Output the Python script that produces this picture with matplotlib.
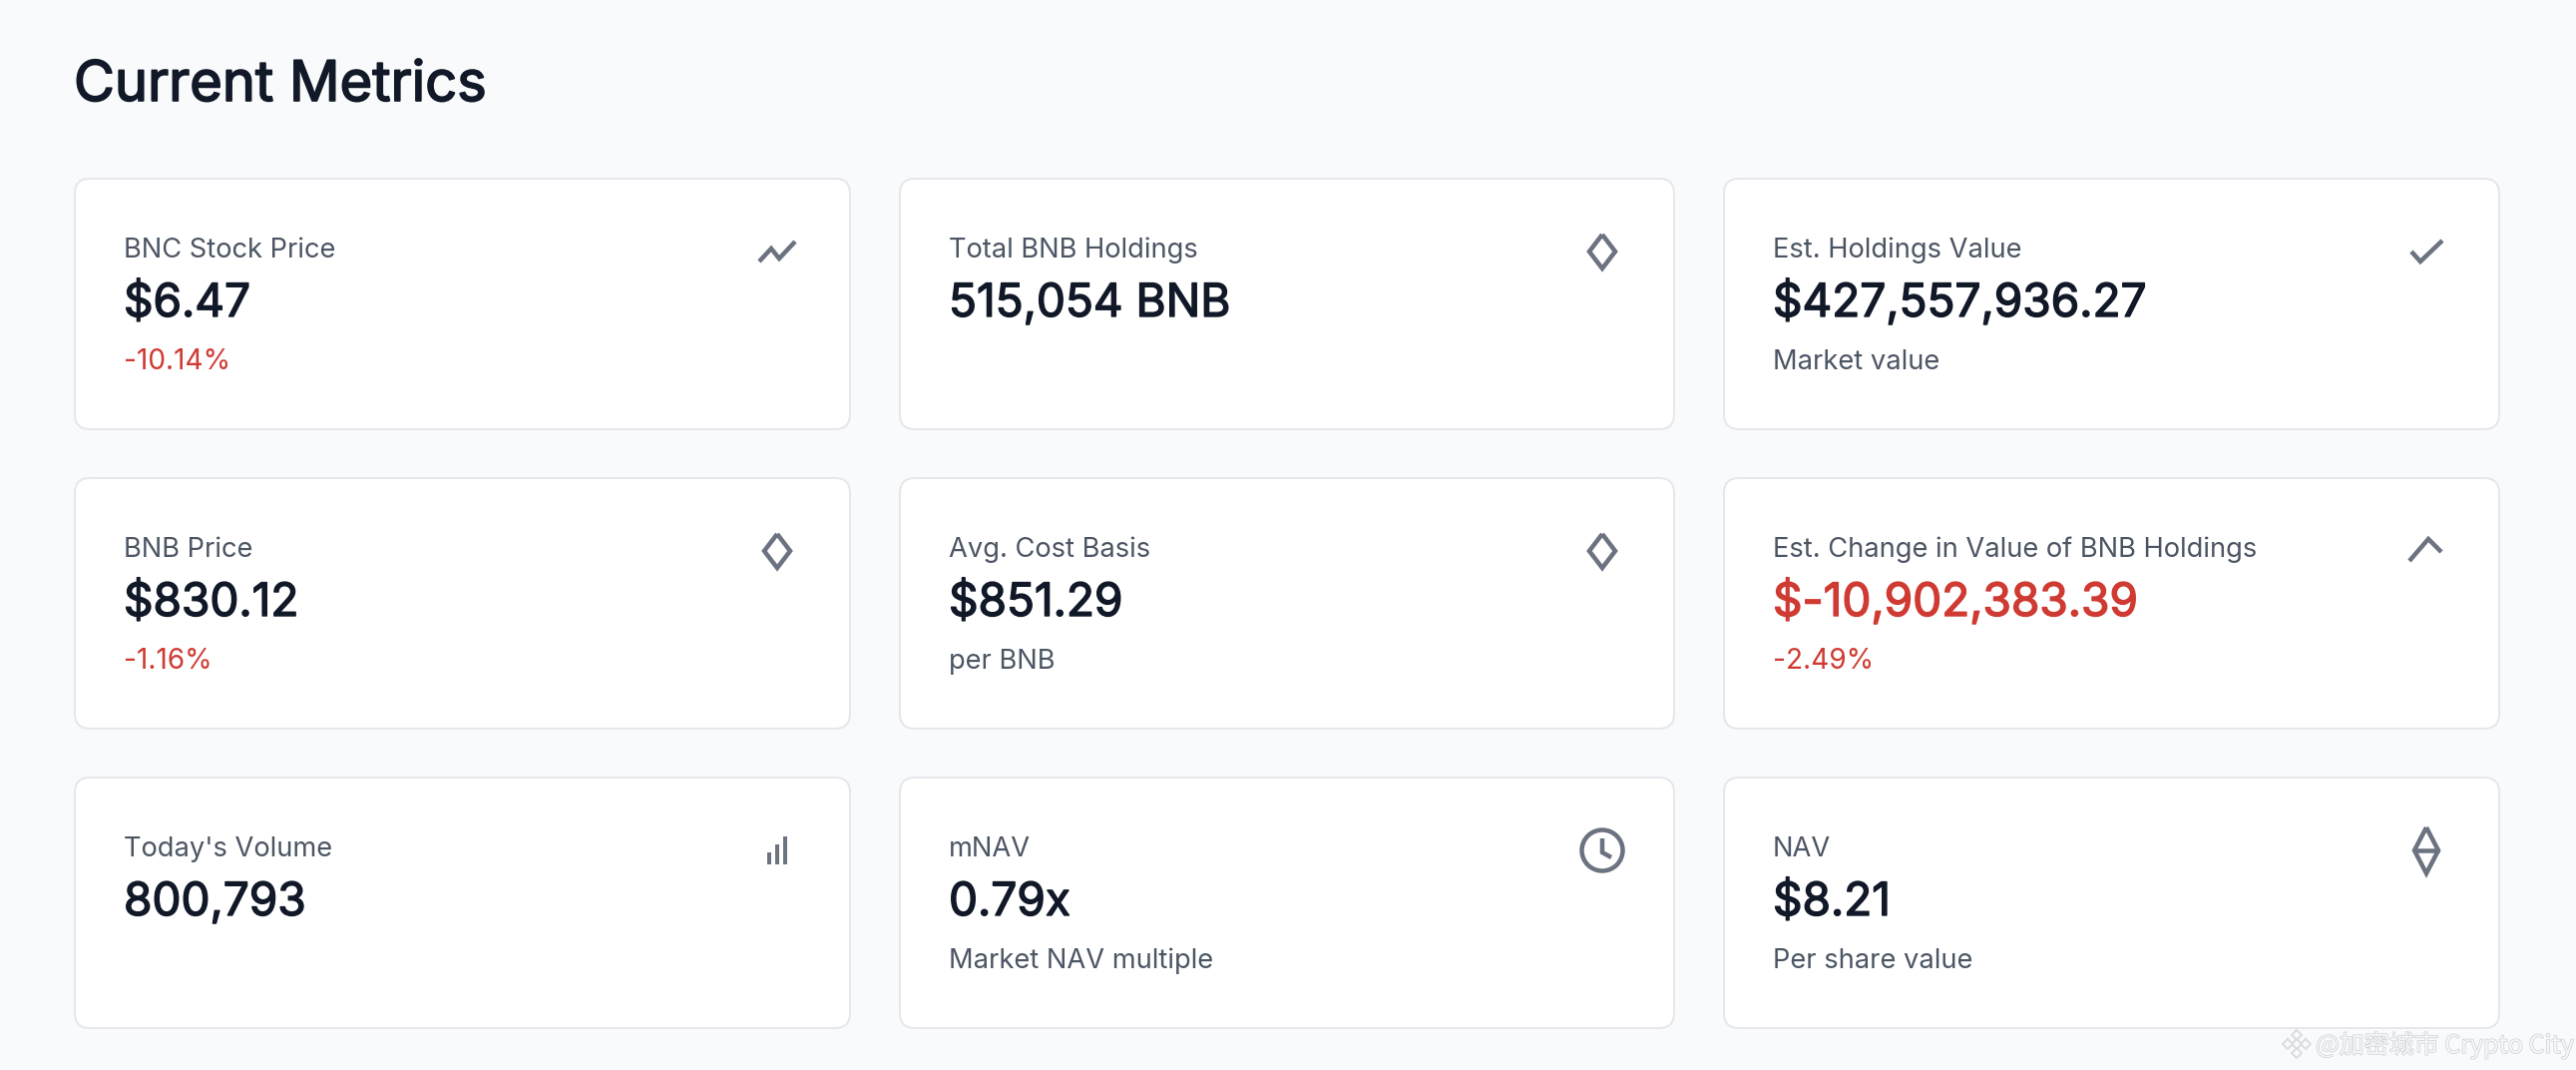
import matplotlib
matplotlib.use("Agg")
import matplotlib.pyplot as plt
import matplotlib.patheffects as pe
from matplotlib.patches import FancyBboxPatch, Circle

# card contents, row by row
labels = ["BNC Stock Price", "Total BNB Holdings", "Est. Holdings Value",
          "BNB Price", "Avg. Cost Basis", "Est. Change in Value of BNB Holdings",
          "Today's Volume", "mNAV", "NAV"]
values = ["$6.47", "515,054 BNB", "$427,557,936.27",
          "$830.12", "$851.29", "$-10,902,383.39",
          "800,793", "0.79x", "$8.21"]
subs = ["-10.14%", "", "Market value",
        "-1.16%", "per BNB", "-2.49%",
        "", "Market NAV multiple", "Per share value"]
icons = ["trend", "diamond", "check",
         "diamond", "diamond", "chevron",
         "bars", "clock", "eth"]
red_values = [5]
red_subs = [0, 3, 5]

W, H = 2582, 1072
COL_X = [(75, 852), (902, 1678), (1728, 2505)]
ROW_Y = [(179, 430), (479, 730), (779, 1030)]

BG = "#F9FAFB"
BORDER = "#E5E7EB"
DARK = "#111827"
GREY = "#4B5563"
RED = "#CF3A32"
ICON = "#6B7280"

plt.rcParams["font.family"] = ["Inter", "DejaVu Sans"]
PX = 0.72  # points per pixel at dpi=100

fig = plt.figure(figsize=(W / 100, H / 100), dpi=100, facecolor=BG)
ax = fig.add_axes([0, 0, 1, 1])
ax.set_xlim(0, W)
ax.set_ylim(H, 0)
ax.axis("off")


def stroke(xs, ys, lw=4.5):
    ax.plot(xs, ys, color=ICON, lw=lw * PX, solid_capstyle="butt", solid_joinstyle="miter")


def draw_icon(kind, cx, cy):
    if kind == "trend":
        stroke([cx - 18, cx - 6, cx + 2, cx + 18], [cy + 10, cy - 3, cy + 7, cy - 10])
    elif kind == "diamond":
        stroke([cx, cx + 13, cx, cx - 13, cx], [cy - 17, cy, cy + 17, cy, cy - 17])
    elif kind == "check":
        stroke([cx - 15, cx - 6, cx + 16], [cy, cy + 10, cy - 11])
    elif kind == "chevron":
        stroke([cx - 17, cx + 2, cx + 15], [cy + 10, cy - 12, cy + 1])
    elif kind == "bars":
        for dx, h in [(-8, 12), (0, 20), (8, 28)]:
            ax.fill_between([cx + dx - 2, cx + dx + 2], cy + 14 - h, cy + 14, color=ICON, lw=0)
    elif kind == "clock":
        ax.add_patch(Circle((cx, cy), 20.5, fill=False, ec=ICON, lw=4.5 * PX))
        stroke([cx, cx, cx + 9], [cy - 12, cy + 2, cy + 7])
    elif kind == "eth":
        stroke([cx, cx + 12, cx, cx - 12, cx], [cy - 23, cy, cy + 23, cy, cy - 23])
        stroke([cx - 13, cx + 13], [cy, cy])


def heavier(color, width):
    # no medium cut of Inter here, so thicken the regular one a little
    return [pe.withStroke(linewidth=width, foreground=color)]


ax.text(74, 101, "Current Metrics", fontsize=56 * PX, color=DARK, va="baseline",
        path_effects=heavier(DARK, 1.2))

for i in range(len(labels)):
    x0, x1 = COL_X[i % 3]
    y0, y1 = ROW_Y[i // 3]
    ax.add_patch(FancyBboxPatch((x0, y0), x1 - x0, y1 - y0, boxstyle="round,pad=0,rounding_size=15",
                                fc="white", ec=BORDER, lw=2 * PX))
    tx = x0 + 49
    ax.text(tx, y0 + 79, labels[i], fontsize=27.3 * PX, color=GREY, va="baseline")
    val_color = RED if i in red_values else DARK
    ax.text(tx, y0 + 138, values[i], fontsize=46 * PX, color=val_color, va="baseline",
            path_effects=heavier(val_color, 1.0))
    if subs[i]:
        is_red = i in red_subs
        ax.text(tx, y0 + 191, subs[i], fontsize=(28 if is_red else 27.3) * PX,
                color=RED if is_red else GREY, va="baseline")
    draw_icon(icons[i], (x0 + x1) // 2 + 316, y0 + 73)

# watermark in the corner, hollow looking
ax.text(2321, 1055, "@加密城市 Crypto City", fontsize=25 * PX, color="#F6F7F8", va="baseline",
        family=["Noto Sans CJK SC", "DejaVu Sans"],
        path_effects=[pe.withStroke(linewidth=1.0, foreground="#CDD0D5")])
for dx, dy in [(0, -9), (-9, 0), (9, 0), (0, 9), (0, 0)]:
    cx, cy = 2302 + dx, 1046 + dy
    ax.plot([cx, cx + 5, cx, cx - 5, cx], [cy - 5, cy, cy + 5, cy, cy - 5], color="#DADDE1", lw=2 * PX)

fig.savefig("out.png", dpi=100, facecolor=BG)
